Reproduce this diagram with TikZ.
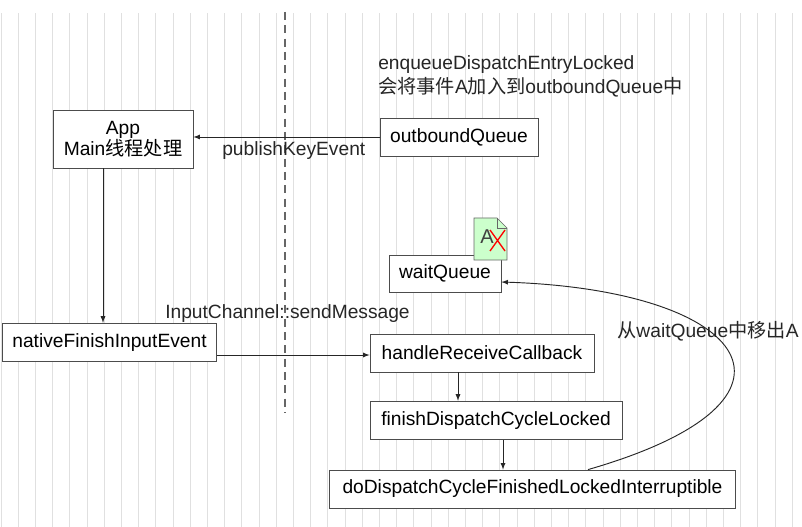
\documentclass[tikz,border=0pt]{standalone}
\usepackage{fontspec}
\setmainfont{Liberation Sans}
\newfontfamily\cjk{Noto Sans CJK SC}
\begin{document}
\begin{tikzpicture}[x=0.75pt,y=-0.75pt,
  box/.style={draw=black!70,fill=white,inner sep=0,line width=0.6pt,font=\fontsize{14.4}{16}\selectfont},
  lbl/.style={font=\fontsize{14.4}{16}\selectfont,inner sep=0,anchor=west,text=black!85},
  arr/.style={-latex,black!85,line width=0.7pt}]
\useasboundingbox (0,0) rectangle (802,527);
\fill[white] (0,0) rectangle (802,527);
\draw[black!12,line width=0.5pt,step=17.2,shift={(1,13)}] (0,0) grid (801,514);
\draw[black!60,line width=1.5pt,dash pattern=on 6pt off 4pt] (285,12) -- (285,413);
\node[box,minimum width=105pt,minimum height=43.5pt,align=center] (app) at (123,139) {App\\Main{\cjk 线程处理}};
\node[box,minimum width=118.5pt,minimum height=28.5pt] (ob) at (459,137) {outboundQueue};
\node[box,minimum width=84pt,minimum height=27.75pt] (wq) at (445,273.5) {waitQueue};
\node[box,minimum width=161pt,minimum height=29pt] (nf) at (109.5,342.5) {nativeFinishInputEvent};
\node[box,minimum width=168pt,minimum height=28.5pt] (hr) at (482,353) {handleReceiveCallback};
\node[box,minimum width=189pt,minimum height=29pt] (fd) at (496,420.5) {finishDispatchCycleLocked};
\node[box,minimum width=305pt,minimum height=28.5pt] (dd) at (532.5,489) {doDispatchCycleFinishedLockedInterruptible};
% document icon
\draw[fill=green!20,draw=black!60] (474,218) -- (497,218) -- (507,228) -- (507,260) -- (474,260) -- cycle;
\draw[black!60] (497,218) -- (497,228) -- (507,228);
\node[font=\fontsize{15}{15}\selectfont,inner sep=0,text=black!75] (a) at (487,237) {A};
\draw[red,line width=1pt] (490,230) -- (505,251) (505,230) -- (490,251);
\node[lbl] (t1) at (378,65) {enqueueDispatchEntryLocked};
\node[lbl] (t2) at (378,87) {{\cjk 会将事件}A{\cjk 加入到}outboundQueue{\cjk 中}};
\node[lbl] (t3) at (222,151) {publishKeyEvent};
\node[lbl] (t4) at (165,314) {InputChannel::sendMessage};
\node[lbl] (t5) at (617,331) {{\cjk 从}waitQueue{\cjk 中移出}A};
\draw[arr] (ob.west) -- (app.east |- ob.west);
\draw[arr] (app.south -| 103,0) -- (nf.north -| 103,0);
\draw[arr] (nf.east |- 0,355) -- (hr.west |- 0,355);
\draw[arr] (hr.south -| 458,0) -- (fd.north -| 458,0);
\draw[arr] (fd.south -| 503,0) -- (dd.north -| 503,0);
\draw[arr] (dd.north -| 588,0) .. controls (830,400) and (750,290) .. (wq.east |- 0,282);
\end{tikzpicture}
\end{document}
